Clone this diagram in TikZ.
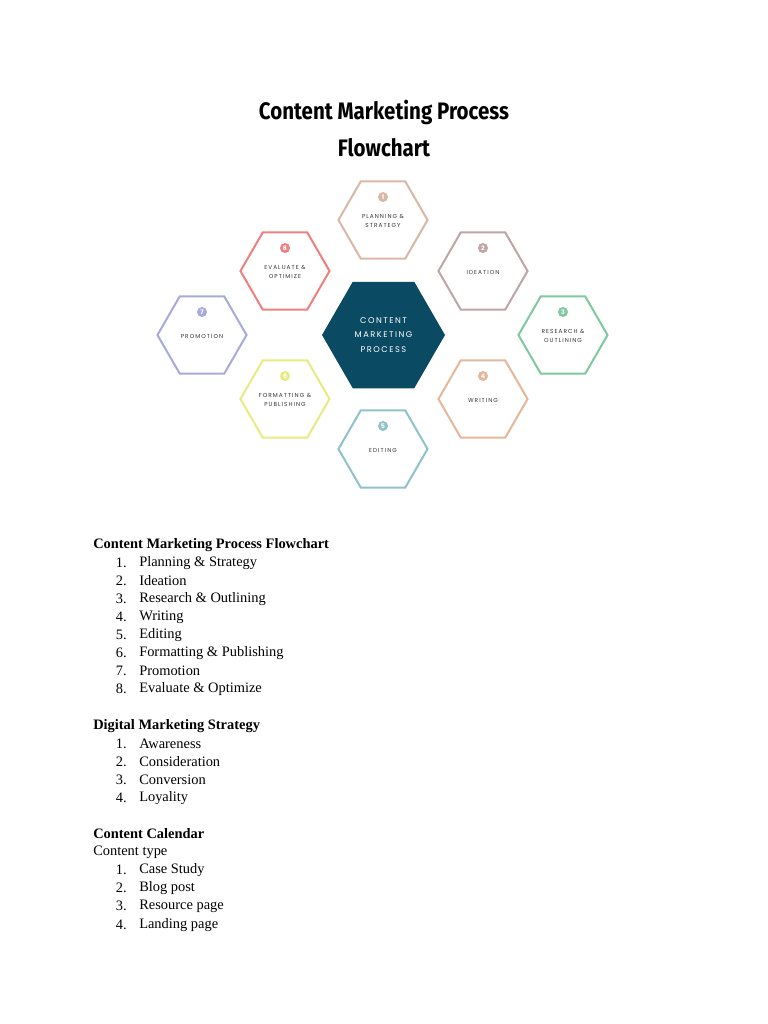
\documentclass[tikz,border=0pt]{standalone}
\usepackage{fontspec}
\setmainfont{Liberation Serif}
\newfontfamily\titlefont{Fira Sans}
\newfontfamily\hexfont[LetterSpace=18]{Poppins}
\usetikzlibrary{shapes.geometric}
\definecolor{c1}{HTML}{D9B8A8}
\definecolor{c2}{HTML}{BFA5A8}
\definecolor{c3}{HTML}{7FC9A0}
\definecolor{c4}{HTML}{E6B89A}
\definecolor{c5}{HTML}{8FC3CC}
\definecolor{c6}{HTML}{E8EC80}
\definecolor{c7}{HTML}{A9A9DC}
\definecolor{c8}{HTML}{EE8080}
\definecolor{cmid}{HTML}{0B4A63}
\begin{document}
\begin{tikzpicture}[x=0.797pt,y=-0.797pt,
  hexa/.style={regular polygon,regular polygon sides=6,minimum size=71pt,inner sep=0pt,line width=1.6pt,fill=white},
  hexlbl/.style={font=\hexfont\fontsize{4.6}{7.5}\selectfont,align=center,text=black!80},
  numdot/.style={circle,inner sep=0pt,minimum size=8pt,text=white,font=\hexfont\bfseries\fontsize{5}{5}\selectfont},
  lst/.style={anchor=west,font=\fontsize{11.5}{13}\selectfont,inner sep=0pt},
  lnum/.style={anchor=east,font=\fontsize{11.5}{13}\selectfont,inner sep=0pt},
  hd/.style={anchor=west,font=\bfseries\fontsize{11.5}{13}\selectfont,inner sep=0pt}]
\useasboundingbox (0,0) rectangle (768,1024);
\fill[white] (0,0) rectangle (768,1024);
\node (t1) at (384,112) {\titlefont\bfseries\fontsize{19}{22}\selectfont\scalebox{0.86}[1]{Content Marketing Process}};
\node (t2) at (384,148) {\titlefont\bfseries\fontsize{19}{22}\selectfont\scalebox{0.86}[1]{Flowchart}};
% center
\node[regular polygon,regular polygon sides=6,minimum size=98pt,inner sep=0pt,fill=cmid] (mid) at (383.5,335) {};
\node[font=\hexfont\fontsize{6.6}{11.5}\selectfont,text=white,align=center] (midt) at (383.5,335) {CONTENT\\MARKETING\\PROCESS};
% outer hexagons: name, x, y, color, number, text
\foreach \n/\x/\y/\c/\t in {1/383/220/c1/{PLANNING \&\\STRATEGY},2/483/271/c2/IDEATION,3/563/335/c3/{RESEARCH \&\\OUTLINING},4/483/399/c4/WRITING,5/383/449/c5/EDITING,6/285/399/c6/{FORMATTING \&\\PUBLISHING},7/202/335/c7/PROMOTION,8/285/271/c8/{EVALUATE \&\\OPTIMIZE}}{
  \node[hexa,draw=\c] (h\n) at (\x,\y) {};
  \node[numdot,fill=\c] (n\n) at (\x,\y-23) {\n};
  \node[hexlbl] (l\n) at (\x,\y+1) {\t};
}
% lists
\node[hd] (a0) at (93,545) {Content Marketing Process Flowchart};
\foreach \i/\yy/\s in {1/563/Planning \& Strategy,2/581/Ideation,3/599/Research \& Outlining,4/617/Writing,5/635/Editing,6/653/Formatting \& Publishing,7/671/Promotion,8/689/Evaluate \& Optimize}{
  \node[lnum] (an\i) at (127,\yy) {\i.};
  \node[lst] (a\i) at (139,\yy) {\s};
}
\node[hd] (b0) at (93,726) {Digital Marketing Strategy};
\foreach \i/\yy/\s in {1/744/Awareness,2/762/Consideration,3/780/Conversion,4/798/Loyality}{
  \node[lnum] (bn\i) at (127,\yy) {\i.};
  \node[lst] (b\i) at (139,\yy) {\s};
}
\node[hd] (c0) at (93,834) {Content Calendar};
\node[lst] (ct) at (93,852) {Content type};
\foreach \i/\yy/\s in {1/870/Case Study,2/888/Blog post/website,3/906/Resource page,4/925/Landing page}{
  \node[lnum] (cn\i) at (127,\yy) {\i.};
  \node[lst] (c\i) at (139,\yy) {\s};
}
\end{tikzpicture}
\end{document}
